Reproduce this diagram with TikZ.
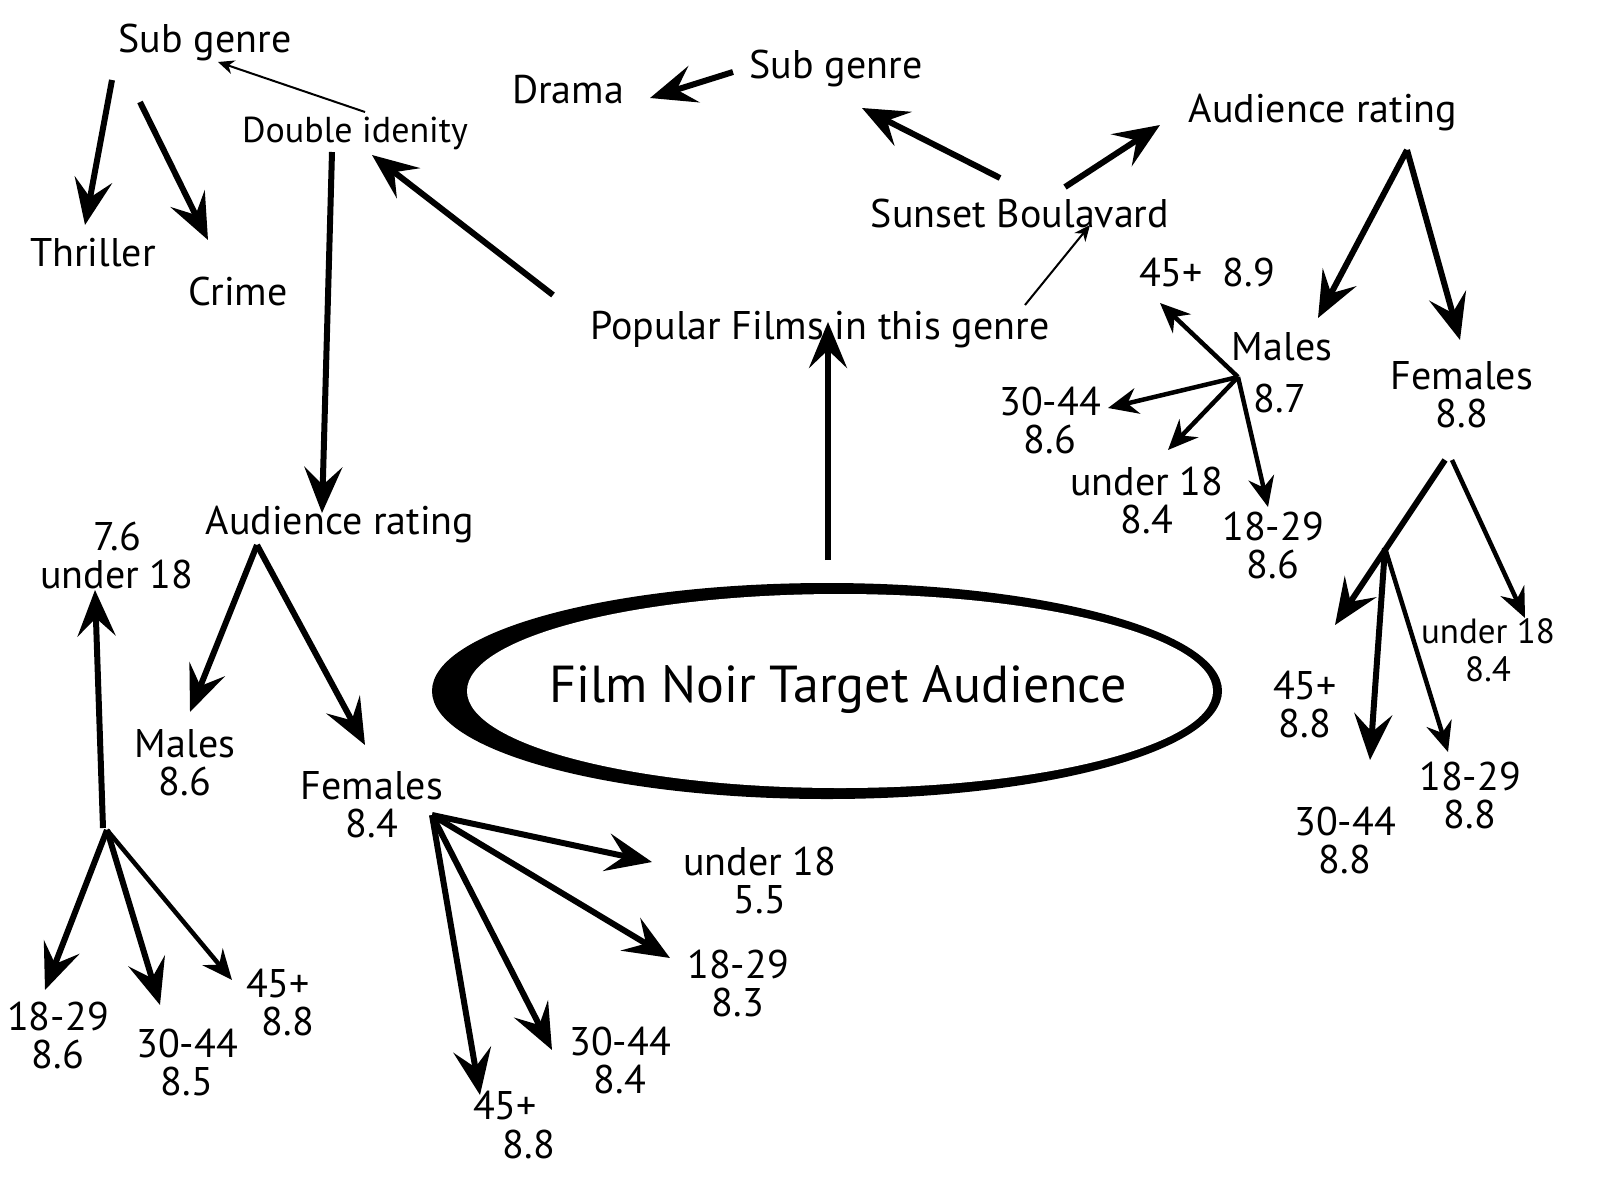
\documentclass[tikz,border=0pt]{standalone}
\usepackage{fontspec}
\setmainfont{PT Sans}
\usetikzlibrary{arrows.meta}
\begin{document}
\begin{tikzpicture}[x=1pt,y=-1pt,
  lbl/.style={font=\fontsize{40}{38}\selectfont,align=center,inner sep=0pt},
  arr/.style={line width=6pt,-{Stealth[length=46pt,width=38pt,inset=18pt]}},
  mid/.style={line width=4.5pt,-{Stealth[length=30pt,width=26pt,inset=10pt]}},
  thin/.style={line width=2pt,-{Stealth[length=16pt,width=14pt,inset=5pt]}}]
\useasboundingbox (0,0) rectangle (1600,1200);
% ellipse
\fill (827,691) ellipse [x radius=395, y radius=108];
\fill[white] (840,691) ellipse [x radius=373, y radius=97];
\node[lbl,font=\fontsize{52}{52}\selectfont] (main) at (838,690) {Film Noir Target Audience};
% labels
\node[lbl] (sgl) at (205,42) {Sub genre};
\node[lbl,font=\fontsize{36}{36}\selectfont] (dbl) at (355,133) {Double idenity};
\node[lbl] (thr) at (93,253) {Thriller};
\node[lbl] (cri) at (238,291) {Crime};
\node[lbl] (dra) at (568,90) {Drama};
\node[lbl] (sgt) at (836,68) {Sub genre};
\node[lbl] (arr) at (1323,113) {Audience rating};
\node[lbl] (sun) at (1020,213) {Sunset Boulavard};
\node[lbl] (pop) at (820,330) {Popular Films in this genre};
\node[lbl] (r45) at (1207,272) {45+\enspace 8.9};
\node[lbl] (rm) at (1282,347) {Males};
\node[lbl] (rm2) at (1280,398) {8.7};
\node[lbl] (rf) at (1462,395) {Females\\8.8};
\node[lbl] (r3044) at (1050,420) {30-44\\8.6};
\node[lbl] (ru18) at (1147,500) {under 18\\8.4};
\node[lbl] (r1829) at (1273,545) {18-29\\8.6};
\node[lbl] (fr45) at (1305,705) {45+\\8.8};
\node[lbl] (fr3044) at (1345,840) {30-44\\8.8};
\node[lbl] (fr1829) at (1470,795) {18-29\\8.8};
\node[lbl,font=\fontsize{35}{38}\selectfont] (fru18) at (1488,650) {under 18\\8.4};
\node[lbl] (arl) at (340,525) {Audience rating};
\node[lbl] (l76) at (117,555) {7.6\\under 18};
\node[lbl] (lm) at (185,763) {Males\\8.6};
\node[lbl] (lf) at (372,805) {Females\\8.4};
\node[lbl] (fu18) at (760,880) {under 18\\5.5};
\node[lbl] (f1829) at (738,983) {18-29\\8.3};
\node[lbl] (f3044) at (620,1060) {30-44\\8.4};
\node[lbl] (f45) at (505,1125) {45+\\\hspace*{1.2em}8.8};
\node[lbl] (m1829) at (58,1035) {18-29\\8.6};
\node[lbl] (m3044) at (187,1062) {30-44\\8.5};
\node[lbl] (m45) at (278,1003) {45+\\\hspace*{0.5em}8.8};
% branch points
\coordinate (bAR) at (1407,150);
\coordinate (bM) at (1238,377);
\coordinate (bF) at (1445,460);
\coordinate (bF2) at (1385,548);
\coordinate (bAL) at (257,545);
\coordinate (bL) at (107,830);
\coordinate (bLF) at (432,815);
% arrows
\draw[thin] (365,112) -- (218,62);
\draw[arr] (112,80) -- (85,225);
\draw[arr] (140,102) -- (208,240);
\draw[arr] (332,152) -- (322,513);
\draw[arr] (553,295) -- (372,155);
\draw[arr] (733,72) -- (650,98);
\draw[arr] (1000,178) -- (862,108);
\draw[arr] (1065,187) -- (1160,125);
\draw[thin] (1025,305) -- (1090,225);
\draw[arr] (828,560) -- (828,322);
\draw[arr] (bAR) -- (1318,318);
\draw[arr] (bAR) -- (1460,340);
\draw[mid] (bM) -- (1160,303);
\draw[mid] (bM) -- (1108,408);
\draw[mid] (bM) -- (1168,450);
\draw[mid] (bM) -- (1268,507);
\draw[arr] (bF) -- (1335,625);
\draw[mid] (1452,460) -- (1525,618);
\draw[arr] (bF2) -- (1370,760);
\draw[mid] (bF2) -- (1448,752);
\draw[arr] (bAL) -- (190,712);
\draw[arr] (bAL) -- (365,745);
\draw[arr] (103,828) -- (95,590);
\draw[arr] (bL) -- (45,990);
\draw[arr] (bL) -- (160,1005);
\draw[mid] (bL) -- (232,980);
\draw[arr] (bLF) -- (652,862);
\draw[arr] (bLF) -- (670,958);
\draw[arr] (bLF) -- (552,1050);
\draw[arr] (bLF) -- (480,1095);
\end{tikzpicture}
\end{document}
